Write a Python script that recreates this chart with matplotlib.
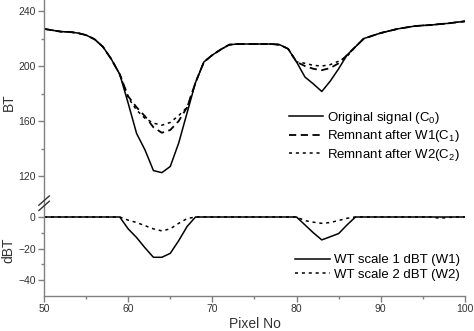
import matplotlib
matplotlib.use("Agg")
import matplotlib.pyplot as plt
from matplotlib.ticker import MultipleLocator, FixedLocator

plt.rcParams['font.family'] = ['Liberation Sans', 'DejaVu Sans']
plt.rcParams['mathtext.fontset'] = 'custom'
plt.rcParams['mathtext.rm'] = 'Liberation Sans'

# Pixel numbers along the scan line
pixel = list(range(50, 101))

# Brightness temperature, original signal C0
bt_c0 = [227, 226, 225, 224.8, 224, 222.5, 219.5, 214, 205, 194,
         173, 151, 139, 124, 122.5, 127, 144, 166, 188, 203,
         208, 212, 215.5, 216, 216, 216, 216, 216, 215.5, 212.5,
         203, 192, 187, 181.5, 189, 198, 208, 214, 220, 222,
         224, 225.5, 227, 228, 229, 229.5, 229.8, 230.5, 231, 231.8,
         232.5]

# Remnant after removing W1 (C1)
bt_c1 = [227, 226, 225, 224.8, 224, 222.5, 219.5, 214, 205, 194,
         178, 170, 163.5, 155.5, 151.5, 153.5, 160, 170, 188, 203,
         208, 212, 215.5, 216, 216, 216, 216, 216, 215.5, 212.5,
         203, 200, 198, 197, 198.5, 202, 208, 214, 220, 222,
         224, 225.5, 227, 228, 229, 229.5, 229.8, 230.5, 231, 231.8,
         232.5]

# Remnant after removing W2 (C2)
bt_c2 = [227, 226, 225, 224.8, 224, 222.5, 219.5, 214, 205, 194,
         177, 168, 162, 158.5, 157, 159, 164, 170, 188, 203,
         208, 212, 215.5, 216, 216, 216, 216, 216, 215.5, 212.5,
         203, 202, 200.5, 200, 201, 203.5, 207, 214, 220, 222,
         224, 225.5, 227, 228, 229, 229.5, 229.8, 230.5, 231, 231.8,
         232.5]

# Wavelet detail coefficients (dBT)
dbt_w1 = [0, 0, 0, 0, 0, 0, 0, 0, 0, 0,
          -7.5, -13, -19.5, -25.5, -25.5, -23, -15, -6, 0, 0,
          0, 0, 0, 0, 0, 0, 0, 0, 0, 0,
          0, -5, -10, -14.5, -12.5, -10.5, -5, 0, 0, 0,
          0, 0, 0, 0, 0, 0, 0, 0, 0, 0,
          0]

dbt_w2 = [0, 0, 0, 0, 0, 0, 0, 0, 0, 0,
          -2, -3.5, -5.5, -7.5, -8.8, -7.5, -4, -1, 0, 0,
          0, 0, 0, 0, 0, 0, 0, 0, 0, 0,
          0, -2.3, -3.3, -4, -3.5, -2.2, -0.8, 0, 0, 0,
          0, 0, 0, 0, 0, 0, 0, -0.8, -0.3, 0,
          0]

spine_col = '#808080'
text_col = '#333333'

fig = plt.figure(figsize=(4.74, 3.31), dpi=100)
ax_top = fig.add_axes([0.0928, 0.3807, 0.888, 0.6193])
ax_bot = fig.add_axes([0.0928, 0.1057, 0.888, 0.2750], sharex=ax_top)

# --- upper panel: BT ---
ax_top.plot(pixel, bt_c0, color='black', lw=1.1, label='Original signal (C$_0$)')
ax_top.plot(pixel, bt_c1, color='black', lw=1.3, ls=(0, (4, 2.5)),
            label='Remnant after W1(C$_1$)')
ax_top.plot(pixel, bt_c2, color='black', lw=1.1, ls=(0, (2, 2.5)),
            label='Remnant after W2(C$_2$)')
ax_top.set_ylim(99, 248)
ax_top.yaxis.set_major_locator(FixedLocator([120, 160, 200, 240]))
ax_top.yaxis.set_minor_locator(FixedLocator([140, 180, 220]))
ax_top.set_ylabel('BT', fontsize=10, color=text_col, labelpad=2)
for s in ['top', 'right', 'bottom']:
    ax_top.spines[s].set_visible(False)
ax_top.tick_params(axis='x', which='both', bottom=False, labelbottom=False)
ax_top.legend(loc='upper right', bbox_to_anchor=(1.0, 0.49), frameon=False,
              fontsize=9.5, handlelength=2.6, handletextpad=0.3,
              labelspacing=0.2, borderaxespad=0.0)

# --- lower panel: dBT ---
ax_bot.plot(pixel, dbt_w1, color='black', lw=1.1, label='WT scale 1 dBT (W1)')
ax_bot.plot(pixel, dbt_w2, color='black', lw=1.1, ls=(0, (2, 2.5)),
            label='WT scale 2 dBT (W2)')
ax_bot.set_ylim(-50, 7.6)
ax_bot.set_xlim(50, 100)
ax_bot.yaxis.set_major_locator(FixedLocator([-40, -20, 0]))
ax_bot.yaxis.set_minor_locator(FixedLocator([-30, -10]))
ax_bot.xaxis.set_major_locator(MultipleLocator(10))
ax_bot.xaxis.set_minor_locator(MultipleLocator(5))
ax_bot.set_ylabel('dBT', fontsize=10, color=text_col, labelpad=2)
ax_bot.set_xlabel('Pixel No', fontsize=10, color=text_col, labelpad=2)
for s in ['top', 'right']:
    ax_bot.spines[s].set_visible(False)
ax_bot.legend(loc='upper right', bbox_to_anchor=(1.0, 0.52), frameon=False,
              fontsize=9.5, handlelength=2.6, handletextpad=0.3,
              labelspacing=0.2, borderaxespad=0.0)

for ax in (ax_top, ax_bot):
    for s in ax.spines.values():
        s.set_color(spine_col)
        s.set_linewidth(1.0)
    ax.tick_params(which='major', direction='out', length=4, width=1,
                   color=spine_col, labelsize=7.5, labelcolor=text_col, pad=2)
    ax.tick_params(which='minor', direction='out', length=2.5, width=1,
                   color=spine_col)

# break marks on the y axis
for dy in (-0.006, 0.010):
    fig.add_artist(plt.Line2D([0.082, 0.104], [0.370 + dy, 0.398 + dy],
                              color=text_col, lw=1.0))

fig.savefig('out.png', dpi=100)
